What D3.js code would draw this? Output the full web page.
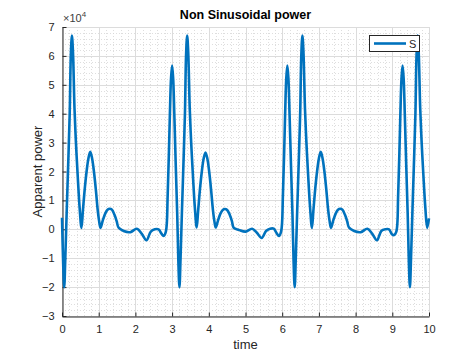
<!DOCTYPE html>
<html><head><meta charset="utf-8">
<script src="https://cdn.jsdelivr.net/npm/d3@7"></script>
<style>body{margin:0;background:#fff}svg{display:block}text{font-family:"Liberation Sans",Arial,Helvetica,sans-serif}</style>
</head><body><svg id="c" width="474" height="355"></svg>
<script>
const title = "Non Sinusoidal power";
const xLabel = "time";
const yLabel = "Apparent power";
const seriesName = "S";
const xTicks = [0,1,2,3,4,5,6,7,8,9,10];
const yTicks = [-3,-2,-1,0,1,2,3,4,5,6,7];
const yExponent = "4";
// apparent power S (values x 1e4), read segment by segment
const time1 = [0.00,0.03,0.06,0.09,0.13,0.17,0.21,0.24,0.27,0.30,0.34,0.38,0.43,0.48,0.53,0.57,0.62,0.67,0.72,0.77,0.82,0.87,0.92,0.97,1.01,1.05,1.11,1.18,1.24,1.30,1.36,1.43,1.49,1.54,1.68,1.86,2.04,2.17,2.30,2.42,2.53,2.63,2.71,2.77];
const s1 =    [0.4,-1.1,-2.0,-1.0,0.7,2.3,4.0,6.0,6.7,6.1,4.2,3.0,1.8,0.75,0.05,0.65,1.4,2.0,2.45,2.68,2.45,2.0,1.4,0.7,0.3,0.05,0.3,0.55,0.68,0.71,0.68,0.5,0.28,0.06,-0.06,-0.10,0.02,-0.15,-0.38,-0.08,0.0,0.0,-0.15,-0.23];
const time2 = [2.83,2.88,2.94,2.97,3.00,3.03,3.06,3.10,3.14,3.17,3.20,3.23,3.27,3.31,3.35,3.38,3.41,3.44,3.48,3.52,3.57,3.62,3.67,3.71,3.76,3.81,3.86,3.91,3.96,4.01,4.06,4.11,4.15,4.19,4.25,4.32,4.38,4.44,4.50,4.57,4.63,4.68,4.82,5.00,5.18,5.31,5.44,5.56,5.67,5.77,5.85,5.91];
const s2 =    [-0.08,1.2,4.0,5.2,5.67,5.2,4.0,2.2,0.5,-1.1,-2.0,-1.0,0.7,2.3,4.0,6.0,6.7,6.1,4.2,3.0,1.8,0.75,0.06,0.65,1.4,2.0,2.45,2.66,2.45,2.0,1.4,0.7,0.3,0.06,0.3,0.55,0.67,0.70,0.67,0.5,0.28,0.05,-0.02,-0.08,0.02,-0.12,-0.30,-0.06,0.02,0.02,-0.14,-0.23];
const time3 = [5.97,6.02,6.08,6.11,6.14,6.17,6.20,6.24,6.28,6.31,6.34,6.37,6.41,6.45,6.49,6.52,6.55,6.58,6.62,6.66,6.71,6.76,6.81,6.85,6.90,6.95,7.00,7.05,7.10,7.15,7.20,7.25,7.29,7.33,7.39,7.46,7.52,7.58,7.64,7.71,7.77,7.82,7.96,8.14,8.32,8.45,8.58,8.70,8.81,8.91,8.99,9.05];
const s3 =    [-0.08,1.2,4.0,5.2,5.67,5.2,4.0,2.2,0.5,-1.1,-2.0,-1.0,0.7,2.3,4.0,6.0,6.7,6.1,4.2,3.0,1.8,0.75,0.05,0.65,1.4,2.0,2.45,2.68,2.45,2.0,1.4,0.7,0.3,0.05,0.3,0.55,0.68,0.71,0.68,0.5,0.28,0.06,-0.06,-0.10,0.02,-0.15,-0.38,-0.06,0.0,0.0,-0.17,-0.20];
const time4 = [9.11,9.16,9.22,9.25,9.28,9.31,9.34,9.38,9.42,9.45,9.48,9.51,9.55,9.59,9.63,9.66,9.69,9.72,9.76,9.80,9.85,9.90,9.95,10.00];
const s4 =    [-0.08,1.2,4.0,5.2,5.67,5.2,4.0,2.2,0.5,-1.1,-2.0,-1.0,0.7,2.3,4.0,6.0,6.7,6.1,4.2,3.0,1.8,0.75,0.05,0.38];

const time = [].concat(time1, time2, time3, time4);
const sValues = [].concat(s1, s2, s3, s4);

const svg = d3.select("#c");
const L = 62, R = 429, T = 27, B = 316;
const x = d3.scaleLinear().domain([0,10]).range([L,R]);
const y = d3.scaleLinear().domain([-3,7]).range([B,T]);
const axisColor = "#262626";

// minor grid
const g = svg.append("g");
const xMinor = d3.range(0, 10.001, 0.2).filter(v => Math.abs(v - Math.round(v)) > 1e-6);
const yMinor = d3.range(-3, 7.001, 0.2).filter(v => Math.abs(v - Math.round(v)) > 1e-6);
g.selectAll(".xm").data(xMinor).enter().append("line")
 .attr("x1", d => Math.round(x(d))+0.5).attr("x2", d => Math.round(x(d))+0.5).attr("y1", T).attr("y2", B)
 .attr("stroke", "#d6d6d6").attr("stroke-width", 0.8).attr("stroke-dasharray", "1,2");
g.selectAll(".ym").data(yMinor).enter().append("line")
 .attr("y1", d => Math.round(y(d))+0.5).attr("y2", d => Math.round(y(d))+0.5).attr("x1", L).attr("x2", R)
 .attr("stroke", "#d6d6d6").attr("stroke-width", 0.8).attr("stroke-dasharray", "1,2");
// major grid
g.selectAll(".xg").data(xTicks).enter().append("line")
 .attr("x1", d => Math.round(x(d))+0.5).attr("x2", d => Math.round(x(d))+0.5).attr("y1", T).attr("y2", B)
 .attr("stroke", "#dcdcdc").attr("stroke-width", 1);
g.selectAll(".yg").data(yTicks).enter().append("line")
 .attr("y1", d => Math.round(y(d))+0.5).attr("y2", d => Math.round(y(d))+0.5).attr("x1", L).attr("x2", R)
 .attr("stroke", "#dcdcdc").attr("stroke-width", 1);

// axes
const xAxis = d3.axisBottom(x).tickValues(xTicks).tickSizeInner(-4).tickSizeOuter(0).tickPadding(9).tickFormat(d3.format("d"));
const yAxis = d3.axisLeft(y).tickValues(yTicks).tickSizeInner(-4).tickSizeOuter(0).tickPadding(8).tickFormat(d3.format("d"));
const gx = svg.append("g").attr("transform", `translate(0,${B+0.5})`).call(xAxis);
const gy = svg.append("g").attr("transform", `translate(${L+0.5},0)`).call(yAxis);
[gx, gy].forEach(a => {
  a.select(".domain").attr("stroke", axisColor).attr("stroke-width", 1);
  a.selectAll(".tick line").attr("stroke", axisColor);
  a.selectAll(".tick text").attr("fill", axisColor).attr("font-size", 11).attr("font-family", "Liberation Sans, Arial, sans-serif");
});

// line
const data = time.map((t,i) => ({t, v: sValues[i]}));
const line = d3.line().x(d => x(d.t)).y(d => y(d.v)).curve(d3.curveCatmullRom.alpha(0.5));
svg.append("path").datum(data).attr("d", line).attr("fill", "none")
 .attr("stroke", "#0072BD").attr("stroke-width", 2.6).attr("stroke-linejoin", "round");

// exponent label
const ex = svg.append("text").attr("x", L+1).attr("y", 22).attr("fill", "#404040").attr("font-size", 11);
ex.append("tspan").text("\u00d710");
ex.append("tspan").attr("font-size", 8).attr("dy", -5).text(yExponent);

// title & labels
svg.append("text").attr("x", (L+R)/2).attr("y", 19).attr("text-anchor", "middle")
 .attr("font-weight", "bold").attr("font-size", 12.5).attr("fill", "#000").text(title);
svg.append("text").attr("x", (L+R)/2).attr("y", 349).attr("text-anchor", "middle")
 .attr("font-size", 13).attr("fill", axisColor).text(xLabel);
svg.append("text").attr("transform", `translate(41.5,${(T+B)/2}) rotate(-90)`).attr("text-anchor", "middle")
 .attr("font-size", 13).attr("fill", axisColor).text(yLabel);

// legend
const lg = svg.append("g");
lg.append("rect").attr("x", 369.5).attr("y", 35.5).attr("width", 50).attr("height", 16)
 .attr("fill", "#fff").attr("stroke", axisColor).attr("stroke-width", 1);
lg.append("line").attr("x1", 374).attr("x2", 406).attr("y1", 43.5).attr("y2", 43.5)
 .attr("stroke", "#0072BD").attr("stroke-width", 2.6);
lg.append("text").attr("x", 409).attr("y", 47.5).attr("font-size", 11).attr("fill", axisColor).text(seriesName);
</script></body></html>
